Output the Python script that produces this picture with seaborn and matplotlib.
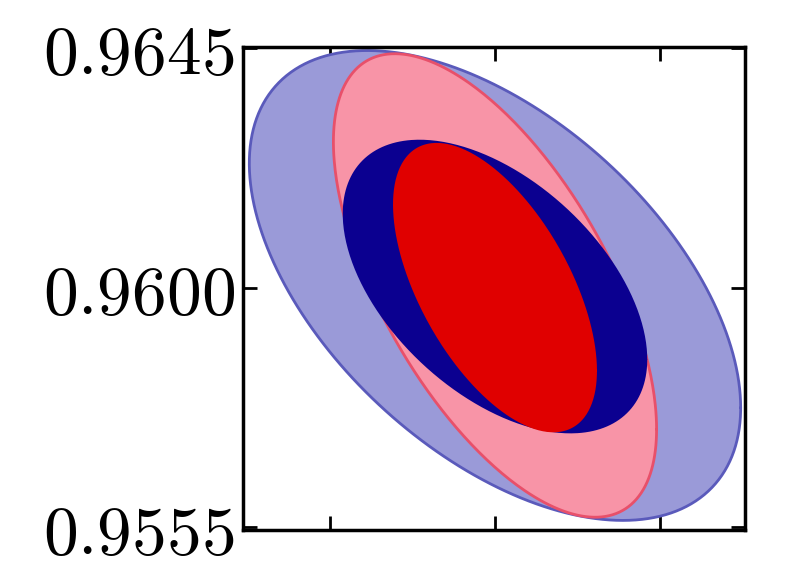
import numpy as np
import pandas as pd
import matplotlib
matplotlib.use("Agg")
import matplotlib.pyplot as plt
import seaborn as sns

# ellipse parameters: center x, center y, half-width x, half-width y, correlation
names = ["blue_outer", "red_outer", "blue_inner", "red_inner"]
cx = [0.0, 0.0, 0.0, 0.0]
cy = [0.96004, 0.96004, 0.96002, 0.9600]
ax_half = [1.49, 0.98, 0.915, 0.61]
ay_half = [0.00441, 0.00435, 0.00273, 0.00269]
rho = [-0.52, -0.62, -0.50, -0.58]
fills = ["#9a9ad8", "#f894a7", "#0b0090", "#e00000"]
edges = ["#5a5abb", "#e8506a", "#0b0090", "#e00000"]
yticks = [0.9555, 0.9600, 0.9645]
ytick_labels = ["0.9555", "0.9600", "0.9645"]

sns.set_style("ticks")
plt.rcParams["mathtext.fontset"] = "cm"
plt.rcParams["font.family"] = ["DejaVu Serif"]

fig = plt.figure(figsize=(8, 5.85), dpi=100)
ax = fig.add_axes([0.304, 0.094, 0.627, 0.826])

t = np.linspace(0, 2 * np.pi, 400)
for i in range(4):
    x = cx[i] + ax_half[i] * np.cos(t)
    y = cy[i] + ay_half[i] * (rho[i] * np.cos(t) + np.sqrt(1 - rho[i] ** 2) * np.sin(t))
    ax.fill(x, y, color=fills[i], zorder=i + 1, lw=0)
    df = pd.DataFrame({"x": x, "y": y})
    sns.lineplot(data=df, x="x", y="y", sort=False, ax=ax, color=edges[i],
                 lw=2, zorder=i + 1.5, estimator=None)

ax.set_xlim(-1.527, 1.515)
ax.set_ylim(0.95545, 0.96452)
ax.set_xticks([-1, 0, 1])
ax.set_xticklabels([])
ax.set_yticks(yticks)
ax.set_yticklabels([r"$%s$" % s for s in ytick_labels], fontsize=50, color="black")
ax.set_xlabel("")
ax.set_ylabel("")
ax.tick_params(direction="in", length=10, width=2, top=True, right=True,
               color="black", pad=6)
for s in ax.spines.values():
    s.set_linewidth(2.5)
    s.set_color("black")
fig.savefig("out.png", dpi=100)
